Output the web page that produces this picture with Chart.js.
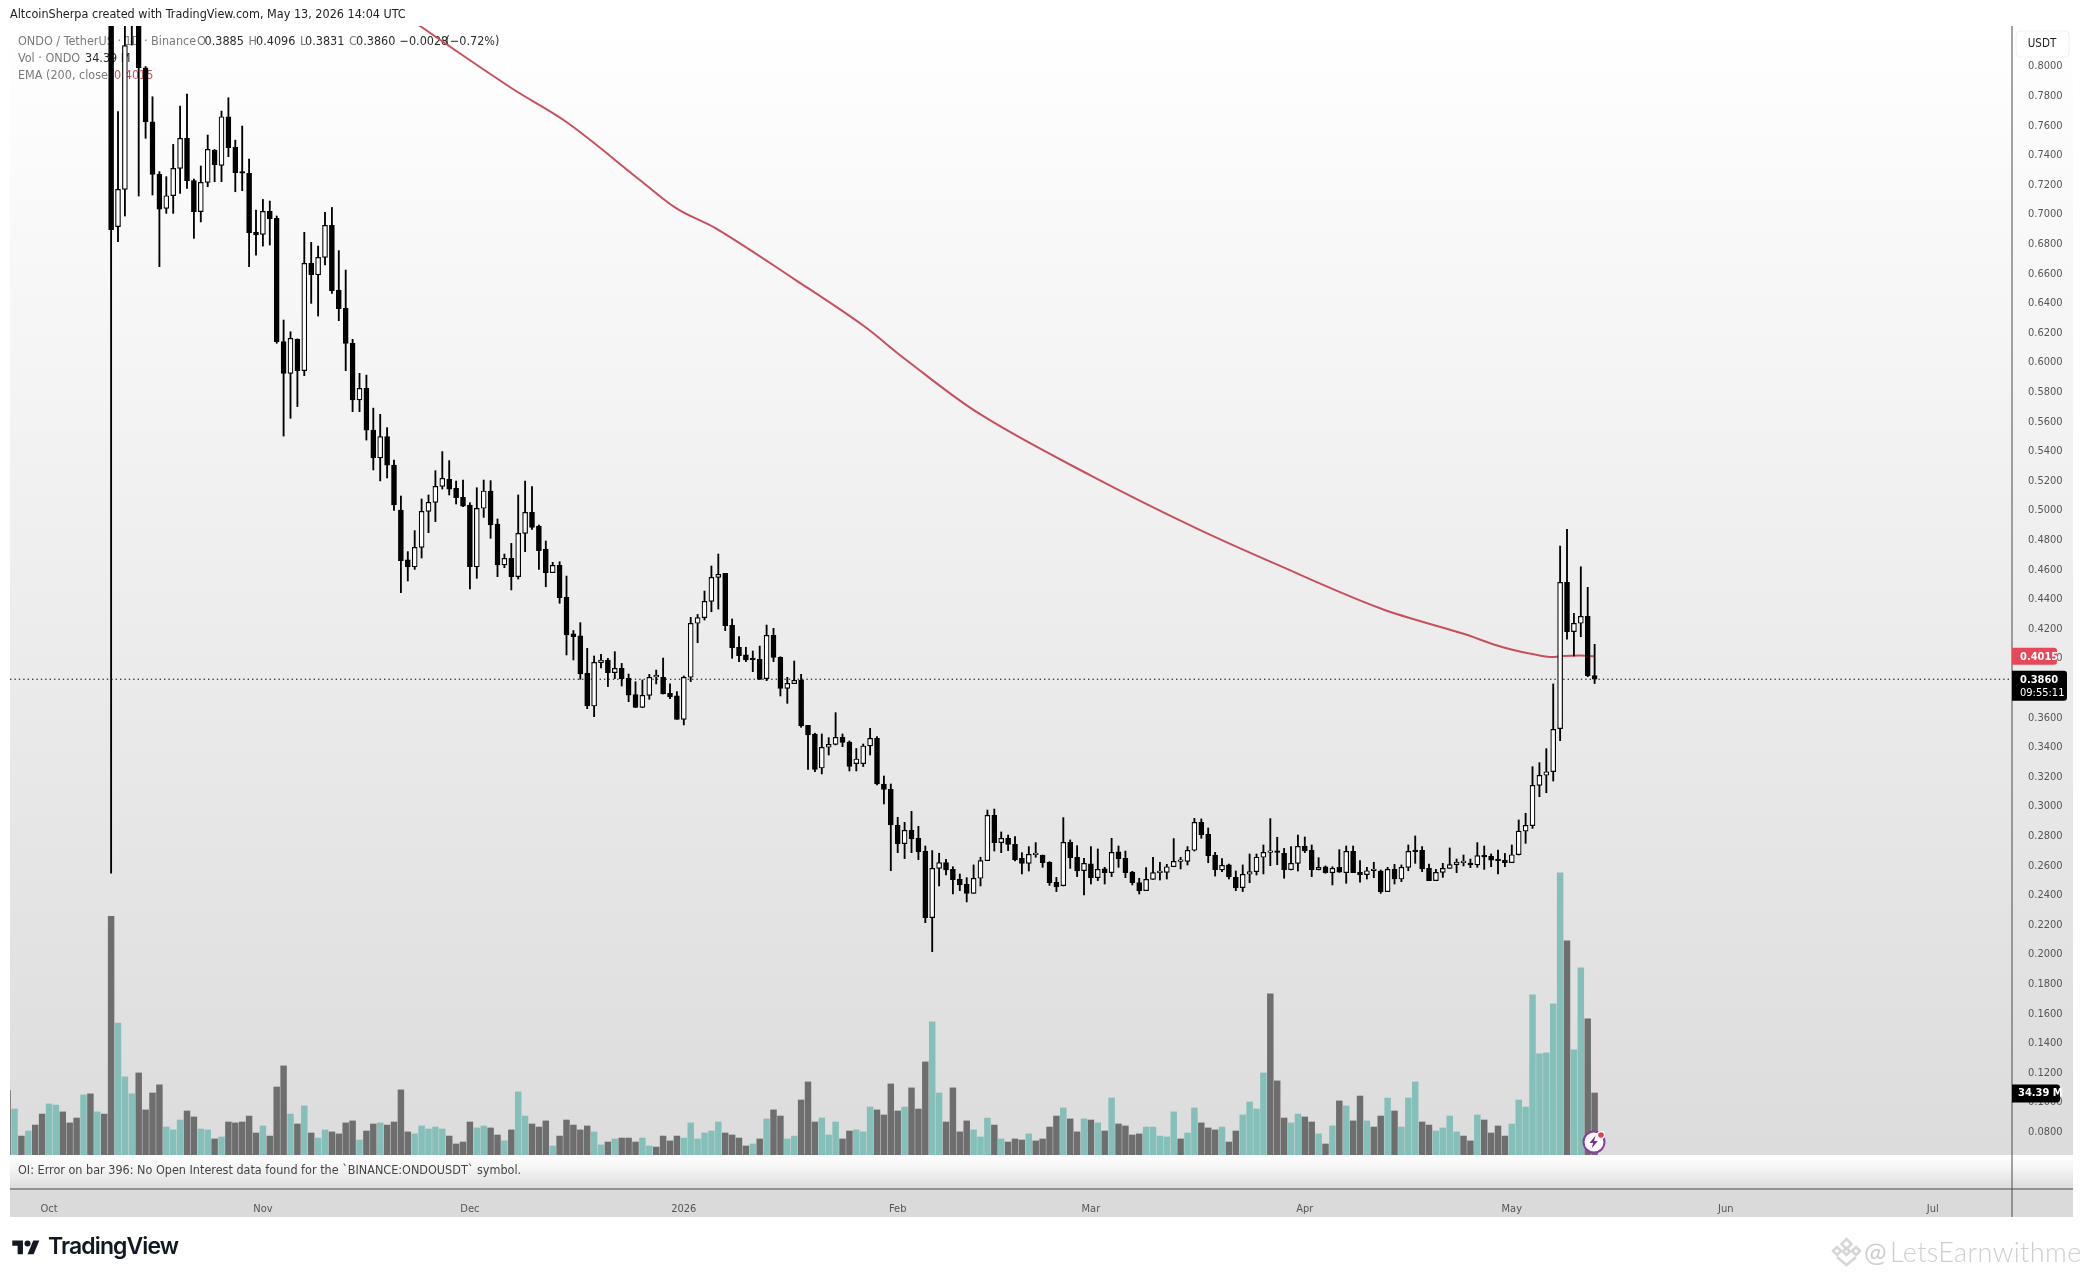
<!DOCTYPE html>
<html>
<head>
<meta charset="utf-8">
<title>ONDO / TetherUS</title>
<script src="https://cdn.jsdelivr.net/npm/chart.js@4"></script>
<style>
    html, body { margin: 0; padding: 0; background: #fff; }
    #wrap { position: relative; width: 2083px; height: 1277px; overflow: hidden; }
    canvas { position: absolute; left: 0; top: 0; }
    .logoText { position: absolute; left: 48px; top: 1232px; font: 600 23px "Inter", sans-serif; letter-spacing: -0.9px; color: #131722; }
    .mark { position: absolute; left: 1890px; top: 1235px; font: 300 27px "Lato", sans-serif; color: #cfcfcf; letter-spacing: 0.4px; white-space: nowrap; }
    .at { position: absolute; left: 1864px; top: 1235px; font: 400 27px "Lato", sans-serif; color: #cfcfcf; }
    svg { position: absolute; }
</style>
</head>
<body>
<div id="wrap">
    <canvas id="grafica" width="2083" height="1277"></canvas>
    <svg style="left:11px;top:1239px" width="30" height="16" viewBox="0 2 36 21"><path fill="#131722" d="M14 22H7V11H0V4h14v18zM28 22h-8l7.5-18h8L28 22z"/><circle fill="#131722" cx="20" cy="8" r="4"/></svg>
    <div class="logoText">TradingView</div>
    <svg style="left:1831px;top:1237px" width="31" height="30" viewBox="0 0 31 30" fill="none" stroke="#d6d6d6" stroke-width="2.5"><path d="M15.5 2l5 5-5 5-5-5zM6 10l4 4-4 4-4-4zM25 10l4 4-4 4-4-4zM15.5 11l3.5 3.5-3.5 3.5-3.5-3.5z"/><path d="M6 20l9.5 8 9.5-8"/></svg>
    <div class="at">@</div>
    <div class="mark">LetsEarnwithme</div>
    <svg style="left:1581px;top:1129px" width="28" height="26" viewBox="0 0 28 26">
        <circle cx="13" cy="13" r="10.5" fill="#fff" stroke="#8e3aa5" stroke-width="2"/>
        <path fill="#7b2f9e" d="M14.5 6.5L8.5 14h3.6l-1.4 5.5 6-7.5h-3.6z"/>
        <circle cx="20" cy="6" r="4" fill="#fff"/><circle cx="20" cy="6" r="2.8" fill="#e04050"/>
    </svg>
</div>
<script>
// day number 0 is 1 Oct 2025, one bar per day
const monthDays = [0, 31, 61, 92, 123, 151, 182, 212, 243, 273];
const monthLabels = ['Oct', 'Nov', 'Dec', '2026', 'Feb', 'Mar', 'Apr', 'May', 'Jun', 'Jul'];
const priceTicks = [0.08, 0.10, 0.12, 0.14, 0.16, 0.18, 0.20, 0.22, 0.24, 0.26, 0.28, 0.30, 0.32, 0.34, 0.36, 0.38,
    0.40, 0.42, 0.44, 0.46, 0.48, 0.50, 0.52, 0.54, 0.56, 0.58, 0.60, 0.62, 0.64, 0.66, 0.68, 0.70, 0.72, 0.74, 0.76, 0.78, 0.80];

const candleStart = 9; // earlier candles are above the top of the picture
const opens = [.88,
    .6918,.7170,.84,.86,.7992,.7627,.7271,.7042,.7127,.7312,
    .7515,.7229,.7019,.7217,.7435,.7332,.7661,.7456,.7283,.7278,
    .6879,.6866,.7021,.6975,.6141,.5927,.6156,.5945,.6670,.6593,
    .6711,.6927,.6490,.6366,.6129,.5747,.5825,.5543,.5355,.5500,
    .5307,.5003,.4666,.4620,.4751,.4994,.5055,.5163,.5211,.5150,
    .5089,.5037,.4620,.5015,.5132,.4909,.4632,.4677,.4553,.4846,
    .4988,.4895,.4740,.4580,.4630,.4413,.4166,.4153,.3899,.3679,
    .3972,.3990,.3904,.3934,.3866,.3757,.3670,.3751,.3875,.3873,
    .3765,.3747,.3589,.3873,.4238,.4276,.4386,.4548,.4575,.4224,
    .4075,.4024,.3994,.3994,.3864,.4157,.4008,.3798,.3830,.3855,
    .3548,.3490,.3260,.3400,.3420,.3467,.3436,.3290,.3290,.3409,
    .3461,.3152,.3116,.2873,.2749,.2839,.2785,.2697,.2249,.2582,
    .2621,.2575,.2508,.2474,.2413,.2515,.2634,.2940,.2756,.2785,
    .2744,.2650,.2616,.2674,.2672,.2623,.2488,.2465,.2758,.2656,
    .2566,.2612,.2519,.2578,.2553,.2693,.2650,.2557,.2485,.2431,
    .2508,.2553,.2555,.2593,.2629,.2629,.2704,.2893,.2812,.2672,
    .2571,.2605,.2521,.2452,.2542,.2560,.2657,.2690,.2692,.2684,
    .2573,.2616,.2731,.2704,.2573,.2593,.2553,.2589,.2553,.2697,
    .2555,.2539,.2567,.2564,.2425,.2575,.2510,.2589,.2706,.2704,
    .2582,.2499,.2555,.2582,.2607,.2620,.2618,.2605,.2670,.2663,
    .2643,.2636,.2620,.2674,.2834,.2871,.3143,.3211,.3235,.3526,
    .4515,.4181,.4238,.4285,.3885];
const highs = [.90,
    .7695,.84,.88,.88,.80,.7796,.7290,.7256,.7474,.7733,
    .7814,.7240,.7328,.7537,.7440,.7699,.7789,.7503,.7598,.7375,
    .7030,.7102,.7091,.6990,.6287,.6208,.6160,.6880,.6812,.6787,
    .7015,.7048,.6756,.6625,.6157,.5927,.5915,.5692,.5650,.5560,
    .5340,.5098,.4722,.4864,.5078,.5105,.5269,.5398,.5337,.5199,
    .5206,.5053,.5154,.5206,.5202,.4943,.4706,.4778,.5105,.5199,
    .5161,.4902,.4794,.4650,.4654,.4557,.4189,.4242,.4069,.4017,
    .4028,.4001,.4046,.3967,.3895,.3843,.3855,.3893,.3922,.4003,
    .3828,.3776,.3882,.4278,.4298,.4456,.4625,.4706,.4575,.4267,
    .4148,.4076,.4051,.4084,.4226,.4204,.4012,.3873,.3983,.3893,
    .3548,.3495,.3490,.3465,.3634,.3490,.3443,.3392,.3422,.3528,
    .3473,.3206,.3152,.2927,.2893,.2967,.2866,.2733,.2702,.2684,
    .2643,.2593,.2544,.2519,.2605,.2657,.2976,.2983,.2828,.2807,
    .2796,.2688,.2729,.2756,.2672,.2627,.2521,.2925,.2774,.2735,
    .2650,.2729,.2713,.2589,.2785,.2733,.2699,.2562,.2515,.2587,
    .2657,.2623,.2609,.2783,.2657,.2729,.2920,.2916,.2855,.2690,
    .2648,.2611,.2564,.2605,.2679,.2679,.2740,.2918,.2792,.2717,
    .2729,.2807,.2794,.2740,.2654,.2598,.2593,.2708,.2733,.2733,
    .2634,.2589,.2623,.2571,.2589,.2609,.2605,.2740,.2801,.2729,
    .2611,.2575,.2616,.2720,.2645,.2672,.2645,.2756,.2733,.2679,
    .2706,.2683,.2740,.2909,.2954,.3269,.3296,.3391,.3828,.4760,
    .4873,.4305,.4620,.4481,.4096];
const lows = [.255,
    .6816,.6990,.8145,.7125,.7515,.7132,.6648,.7008,.7008,.7143,
    .7177,.6839,.6950,.7188,.7222,.7222,.7391,.7154,.7161,.6648,
    .6726,.6787,.6794,.6130,.5503,.5623,.5702,.5911,.6400,.6314,
    .6659,.6467,.6283,.5945,.5668,.5668,.5476,.5274,.5200,.5220,
    .5000,.4445,.4524,.4602,.4679,.4850,.4925,.5145,.5105,.5044,
    .5026,.4470,.4542,.4954,.4812,.4553,.4614,.4463,.4537,.4722,
    .4873,.4602,.4485,.4580,.4373,.4024,.3990,.3859,.3661,.3607,
    .3936,.3810,.3864,.3814,.3708,.3668,.3668,.3724,.3828,.3760,
    .3729,.3589,.3551,.3844,.4107,.4260,.4316,.4334,.4188,.4001,
    .3979,.3979,.3911,.3859,.3850,.3979,.3747,.3697,.3830,.3535,
    .3250,.3235,.3220,.3348,.3416,.3404,.3240,.3240,.3270,.3348,
    .3145,.3017,.2566,.2688,.2648,.2688,.2641,.2215,.2019,.2463,
    .2537,.2409,.2431,.2355,.2413,.2463,.2634,.2699,.2688,.2702,
    .2632,.2544,.2564,.2657,.2589,.2467,.2425,.2463,.2582,.2526,
    .2402,.2476,.2499,.2476,.2526,.2589,.2519,.2470,.2409,.2431,
    .2508,.2503,.2510,.2593,.2578,.2605,.2699,.2785,.2620,.2530,
    .2560,.2510,.2431,.2425,.2485,.2537,.2544,.2600,.2607,.2515,
    .2571,.2564,.2688,.2526,.2571,.2549,.2470,.2555,.2481,.2553,
    .2488,.2510,.2519,.2413,.2425,.2476,.2492,.2566,.2616,.2560,
    .2499,.2499,.2521,.2582,.2553,.2598,.2587,.2589,.2575,.2593,
    .2544,.2593,.2620,.2672,.2751,.2852,.3066,.3093,.3172,.3445,
    .4130,.4017,.4147,.3877,.3831];
const closes = [.6898,
    .7170,.8141,.86,.7992,.7627,.7271,.7037,.7127,.7312,.7515,
    .7229,.7019,.7217,.7440,.7337,.7661,.7452,.7283,.7280,.6877,
    .6862,.7021,.6972,.6141,.5927,.6163,.5945,.6670,.6593,.6711,
    .6927,.6485,.6364,.6129,.5747,.5825,.5543,.5355,.5500,.5307,
    .5037,.4661,.4620,.4751,.4994,.5055,.5163,.5217,.5145,.5087,
    .5030,.4620,.5015,.5132,.4902,.4632,.4677,.4553,.4846,.4988,
    .4886,.4729,.4580,.4630,.4411,.4159,.4148,.3895,.3679,.3974,
    .3990,.3904,.3934,.3864,.3753,.3670,.3751,.3873,.3877,.3760,
    .3740,.3589,.3873,.4238,.4276,.4386,.4548,.4568,.4222,.4073,
    .4019,.3990,.3992,.3859,.4157,.4008,.3798,.3832,.3852,.3544,
    .3483,.3250,.3400,.3420,.3467,.3433,.3270,.3321,.3409,.3461,
    .3152,.3116,.2875,.2747,.2839,.2783,.2695,.2249,.2582,.2621,
    .2571,.2506,.2470,.2413,.2515,.2634,.2940,.2756,.2785,.2744,
    .2639,.2616,.2677,.2676,.2620,.2485,.2458,.2758,.2654,.2564,
    .2616,.2517,.2575,.2553,.2690,.2648,.2553,.2485,.2431,.2508,
    .2553,.2555,.2593,.2629,.2631,.2704,.2893,.2810,.2668,.2573,
    .2602,.2526,.2449,.2542,.2560,.2657,.2690,.2692,.2690,.2573,
    .2616,.2731,.2699,.2573,.2589,.2553,.2582,.2557,.2697,.2553,
    .2537,.2566,.2569,.2425,.2575,.2510,.2589,.2697,.2695,.2578,
    .2499,.2555,.2582,.2607,.2625,.2621,.2605,.2668,.2659,.2638,
    .2634,.2620,.2674,.2834,.2873,.3143,.3211,.3235,.3521,.4515,
    .4181,.4238,.4285,.3884,.3860];

const volumeStart = -6; // millions of ONDO
const volumes = [35.7,25.5,10.5,13.3,16.6,22.7,
    28.3,27.7,23.9,17.8,20.5,33.3,33.9,23.9,22.7,132.3,
    73.1,43.3,33.9,45.5,25.0,34.4,38.9,15.5,13.9,19.4,
    24.4,21.1,14.4,13.9,8.9,10.0,18.3,17.8,18.3,21.6,
    12.2,16.1,10.5,37.7,49.4,22.7,17.2,27.2,12.2,9.4,
    13.9,12.8,11.7,17.8,18.9,8.3,13.3,17.2,17.8,16.6,
    18.3,36.1,12.8,11.7,16.1,14.4,15.5,14.4,10.5,6.1,
    7.2,18.3,15.0,16.1,15.0,11.1,7.8,13.9,35.0,21.6,
    17.2,15.5,18.9,5.0,10.5,19.4,16.6,13.9,16.1,12.8,
    5.6,7.2,8.9,9.4,9.4,7.2,9.4,5.0,4.4,10.5,
    7.8,10.5,9.4,17.8,8.9,12.2,13.3,18.3,12.2,11.1,
    9.4,5.0,6.1,8.9,20.0,25.0,21.6,8.9,10.5,30.5,
    40.5,18.3,20.5,11.1,18.3,8.9,13.3,13.9,12.8,26.6,
    25.0,22.2,39.4,24.4,26.6,37.2,25.5,51.6,73.8,34.4,
    18.3,37.2,12.8,18.9,13.9,10.0,20.5,16.6,8.9,7.2,
    8.9,8.3,11.7,7.8,8.9,15.5,21.6,26.1,20.0,12.8,
    20.0,19.4,17.8,13.3,31.6,17.2,16.1,11.1,11.7,15.5,
    15.5,10.5,10.0,23.9,8.9,12.2,26.1,17.8,15.0,13.9,
    15.5,7.2,13.3,22.2,29.4,25.5,45.5,89.4,41.1,20.5,
    17.8,22.7,21.1,18.3,11.7,6.1,16.1,30.0,27.2,18.9,
    32.7,18.9,15.5,21.6,31.6,24.4,15.5,31.6,40.5,18.3,
    16.6,13.3,15.0,21.6,12.8,10.5,7.8,22.2,19.4,12.2,
    16.1,10.5,17.2,30.5,26.6,88.8,56.1,56.6,83.8,156.5,
    118.8,58.3,103.8,75.5,34.39];
const volumeUp = [0,1,0,1,0,0,
    1,1,0,0,0,1,0,1,0,0,
    1,1,1,0,0,0,0,1,1,1,
    0,0,1,1,0,1,0,0,0,0,
    0,1,0,0,0,1,0,1,0,1,
    1,0,0,0,0,1,0,0,1,0,
    0,0,0,1,1,1,1,1,0,0,
    0,0,1,1,0,0,1,0,1,1,
    0,0,0,1,0,0,0,0,0,1,
    1,0,1,0,0,0,1,1,0,0,
    0,0,1,1,1,1,1,1,0,0,
    0,0,1,0,1,0,0,1,1,0,
    0,0,1,1,1,0,0,1,1,1,
    0,0,0,0,1,0,0,0,1,1,
    0,0,0,0,1,1,1,0,1,0,
    0,0,1,0,0,0,0,1,0,0,
    1,0,1,0,1,0,0,0,0,1,
    1,1,1,1,0,1,1,0,0,0,
    1,0,0,1,1,1,1,0,0,0,
    1,1,0,0,1,0,1,0,1,0,
    0,1,0,0,1,0,1,1,1,0,
    0,1,1,1,1,0,0,1,0,0,
    0,0,1,1,1,1,1,1,1,1,
    0,1,1,0,0];

const emaDays = [50, 54, 67, 75, 86, 91, 97, 108, 118, 124, 135, 151, 166, 178, 193, 205, 210, 214, 217.5, 219.5, 222, 224];
const emaValues = [.8405, .8267, .7855, .7625, .7220, .7040, .6897, .6564, .6250, .6026, .5649, .5236, .4886, .4634, .4338, .4167, .4086, .4039, .4010, .4017, .4020, .4015];

const lastPrice = 0.3860;
const lastEma = 0.4015;
const lastVolume = 34.39;

const dayMin = -5.652;
const dayMax = 284.49;
const priceMax = 0.8274;
const priceMin = 0.0645;
const volumeMax = 626;

const FONT = '"DejaVu Sans Condensed", "DejaVu Sans", sans-serif';

const candleDays = opens.map((_, i) => i + candleStart);

function texto(ctx, str, x, y, font, color, align) {
    ctx.font = font;
    ctx.fillStyle = color;
    ctx.textAlign = align || 'left';
    ctx.textBaseline = 'middle';
    ctx.fillText(str, x, y);
}

function caja(ctx, x, y, w, h, color, radius) {
    ctx.fillStyle = color;
    ctx.beginPath();
    ctx.roundRect(x, y, w, h, radius);
    ctx.fill();
}

// pane backgrounds, separators
const fondo = {
    id: 'fondo',
    beforeDraw(chart) {
        const ctx = chart.ctx;
        const { left, right, top, bottom } = chart.chartArea;
        const edge = 2073;
        ctx.save();
        ctx.fillStyle = '#fff';
        ctx.fillRect(0, 0, chart.width, chart.height);
        let g = ctx.createLinearGradient(0, top, 0, bottom);
        g.addColorStop(0, '#ffffff');
        g.addColorStop(1, '#dcdcdc');
        ctx.fillStyle = g;
        ctx.fillRect(left, top, edge - left, bottom - top);
        g = ctx.createLinearGradient(0, bottom, 0, 1189);
        g.addColorStop(0, '#ffffff');
        g.addColorStop(0.35, '#f6f6f6');
        g.addColorStop(1, '#dcdcdc');
        ctx.fillStyle = g;
        ctx.fillRect(left, bottom, edge - left, 1189 - bottom);
        ctx.fillStyle = '#dadada';
        ctx.fillRect(left, 1189, edge - left, 28);
        ctx.fillStyle = '#4a4a4a';
        ctx.fillRect(left, 1188.5, edge - left, 1);
        ctx.fillRect(right - 0.5, top, 1, 1217 - top);
        ctx.restore();
    },
    beforeDatasetsDraw(chart) {
        const ctx = chart.ctx;
        const gris = '#7a7a7a';
        const negro = '#2b2b2b';
        const f = '12.5px ' + FONT;
        ctx.save();
        texto(ctx, 'AltcoinSherpa created with TradingView.com, May 13, 2026 14:04 UTC', 10, 15, f, '#222');
        texto(ctx, 'ONDO / TetherUS · 1D · Binance', 18, 42, f, gris);
        [['O', 197, gris], ['0.3885', 204.5, negro], ['H', 248.5, gris], ['0.4096', 256, negro],
            ['L', 300, gris], ['0.3831', 305, negro], ['C', 349, gris], ['0.3860', 356, negro],
            ['−0.0028', 399.5, negro], ['(−0.72%)', 445.5, negro]].forEach(p => texto(ctx, p[0], p[1], 42, f, p[2]));
        texto(ctx, 'Vol · ONDO', 18, 59, f, gris);
        texto(ctx, '34.39 M', 85, 59, f, negro);
        texto(ctx, 'EMA (200, close)', 18, 76, f, gris);
        texto(ctx, '0.4015', 114, 76, f, '#c8505c');
        texto(ctx, 'OI: Error on bar 396: No Open Interest data found for the `BINANCE:ONDOUSDT` symbol.', 18, 1171, f, '#444');
        ctx.restore();
    },
    afterDraw(chart) {
        const ctx = chart.ctx;
        const y = chart.scales.y;
        const vol = chart.scales.yVol;
        const f = '11px ' + FONT;
        const fb = 'bold 11px ' + FONT;
        ctx.save();
        caja(ctx, 2016, 31, 53, 26, '#ffffff', 4);
        ctx.strokeStyle = '#f0f0f0';
        ctx.stroke();
        texto(ctx, 'USDT', 2042, 44.5, '11.5px ' + FONT, '#222', 'center');

        const yEma = y.getPixelForValue(lastEma);
        caja(ctx, 2012, yEma - 8.5, 45, 17, '#e6475a', [0, 3, 3, 0]);
        texto(ctx, lastEma.toFixed(4), 2020, yEma + 0.5, fb, '#fff');

        const yPrice = y.getPixelForValue(lastPrice);
        caja(ctx, 2012, yPrice - 8.5, 55, 30, '#000', [0, 3, 3, 0]);
        texto(ctx, lastPrice.toFixed(4), 2020, yPrice + 0.5, fb, '#fff');
        texto(ctx, '09:55:11', 2020, yPrice + 14, f, '#fff');

        const yVol = vol.getPixelForValue(lastVolume);
        caja(ctx, 2012, yVol - 8.5, 48, 18, '#000', [0, 3, 3, 0]);
        texto(ctx, '34.39 M', 2018, yVol + 0.5, fb, '#fff');
        ctx.restore();
    }
};

new Chart(document.getElementById('grafica'), {
    type: 'bar',
    plugins: [fondo],
    data: {
        datasets: [
            {
                label: 'Body',
                order: 1,
                data: candleDays.map((d, i) => ({ x: d, y: [Math.min(opens[i], closes[i]), Math.max(opens[i], closes[i])] })),
                backgroundColor: candleDays.map((d, i) => closes[i] >= opens[i] ? '#ffffff' : '#000000'),
                borderColor: '#000000',
                borderWidth: 1.2,
                borderSkipped: false,
                minBarLength: 1.6,
                grouped: false,
                barPercentage: 1,
                categoryPercentage: 1,
                maxBarThickness: 5
            },
            {
                label: 'Wick',
                order: 2,
                data: candleDays.map((d, i) => ({ x: d, y: [lows[i], highs[i]] })),
                backgroundColor: '#000000',
                grouped: false,
                barPercentage: 1,
                categoryPercentage: 1,
                maxBarThickness: 1.2
            },
            {
                label: 'EMA (200, close)',
                type: 'line',
                order: 3,
                data: emaDays.map((d, i) => ({ x: d, y: emaValues[i] })),
                borderColor: '#c8505c',
                borderWidth: 2,
                pointRadius: 0,
                tension: 0.35
            },
            {
                label: 'Last price',
                type: 'line',
                order: 4,
                data: [{ x: dayMin, y: lastPrice }, { x: dayMax, y: lastPrice }],
                borderColor: '#000000',
                borderWidth: 1,
                borderDash: [1.4, 3],
                pointRadius: 0
            },
            {
                label: 'Vol',
                order: 5,
                yAxisID: 'yVol',
                data: volumes.map((v, i) => ({ x: i + volumeStart, y: v })),
                backgroundColor: volumeUp.map(u => u ? '#84bfb9' : '#6e6e6e'),
                grouped: false,
                barPercentage: 1,
                categoryPercentage: 1,
                maxBarThickness: 5.8
            }
        ]
    },
    options: {
        responsive: false,
        animation: false,
        events: [],
        layout: { padding: { left: 10, top: 26, right: 10, bottom: 60 } },
        plugins: { legend: { display: false }, tooltip: { enabled: false } },
        scales: {
            x: {
                type: 'linear',
                offset: false,
                min: dayMin,
                max: dayMax,
                grid: { display: false },
                border: { display: false },
                afterBuildTicks(scale) {
                    scale.ticks = monthDays.map(d => ({ value: d }));
                },
                afterFit(scale) {
                    scale.height = 62;
                },
                ticks: {
                    autoSkip: false,
                    maxRotation: 0,
                    padding: 40,
                    color: '#555',
                    font: { family: FONT, size: 11 },
                    callback: value => monthLabels[monthDays.indexOf(value)]
                }
            },
            y: {
                position: 'right',
                min: priceMin,
                max: priceMax,
                grid: { display: false },
                border: { display: false },
                afterBuildTicks(scale) {
                    scale.ticks = priceTicks.map(v => ({ value: v }));
                },
                afterFit(scale) {
                    scale.width = 61;
                },
                ticks: {
                    autoSkip: false,
                    padding: 8,
                    color: '#555',
                    font: { family: FONT, size: 11 },
                    callback: value => value.toFixed(4)
                }
            },
            yVol: {
                display: false,
                min: 0,
                max: volumeMax
            }
        }
    }
});
</script>
</body>
</html>
